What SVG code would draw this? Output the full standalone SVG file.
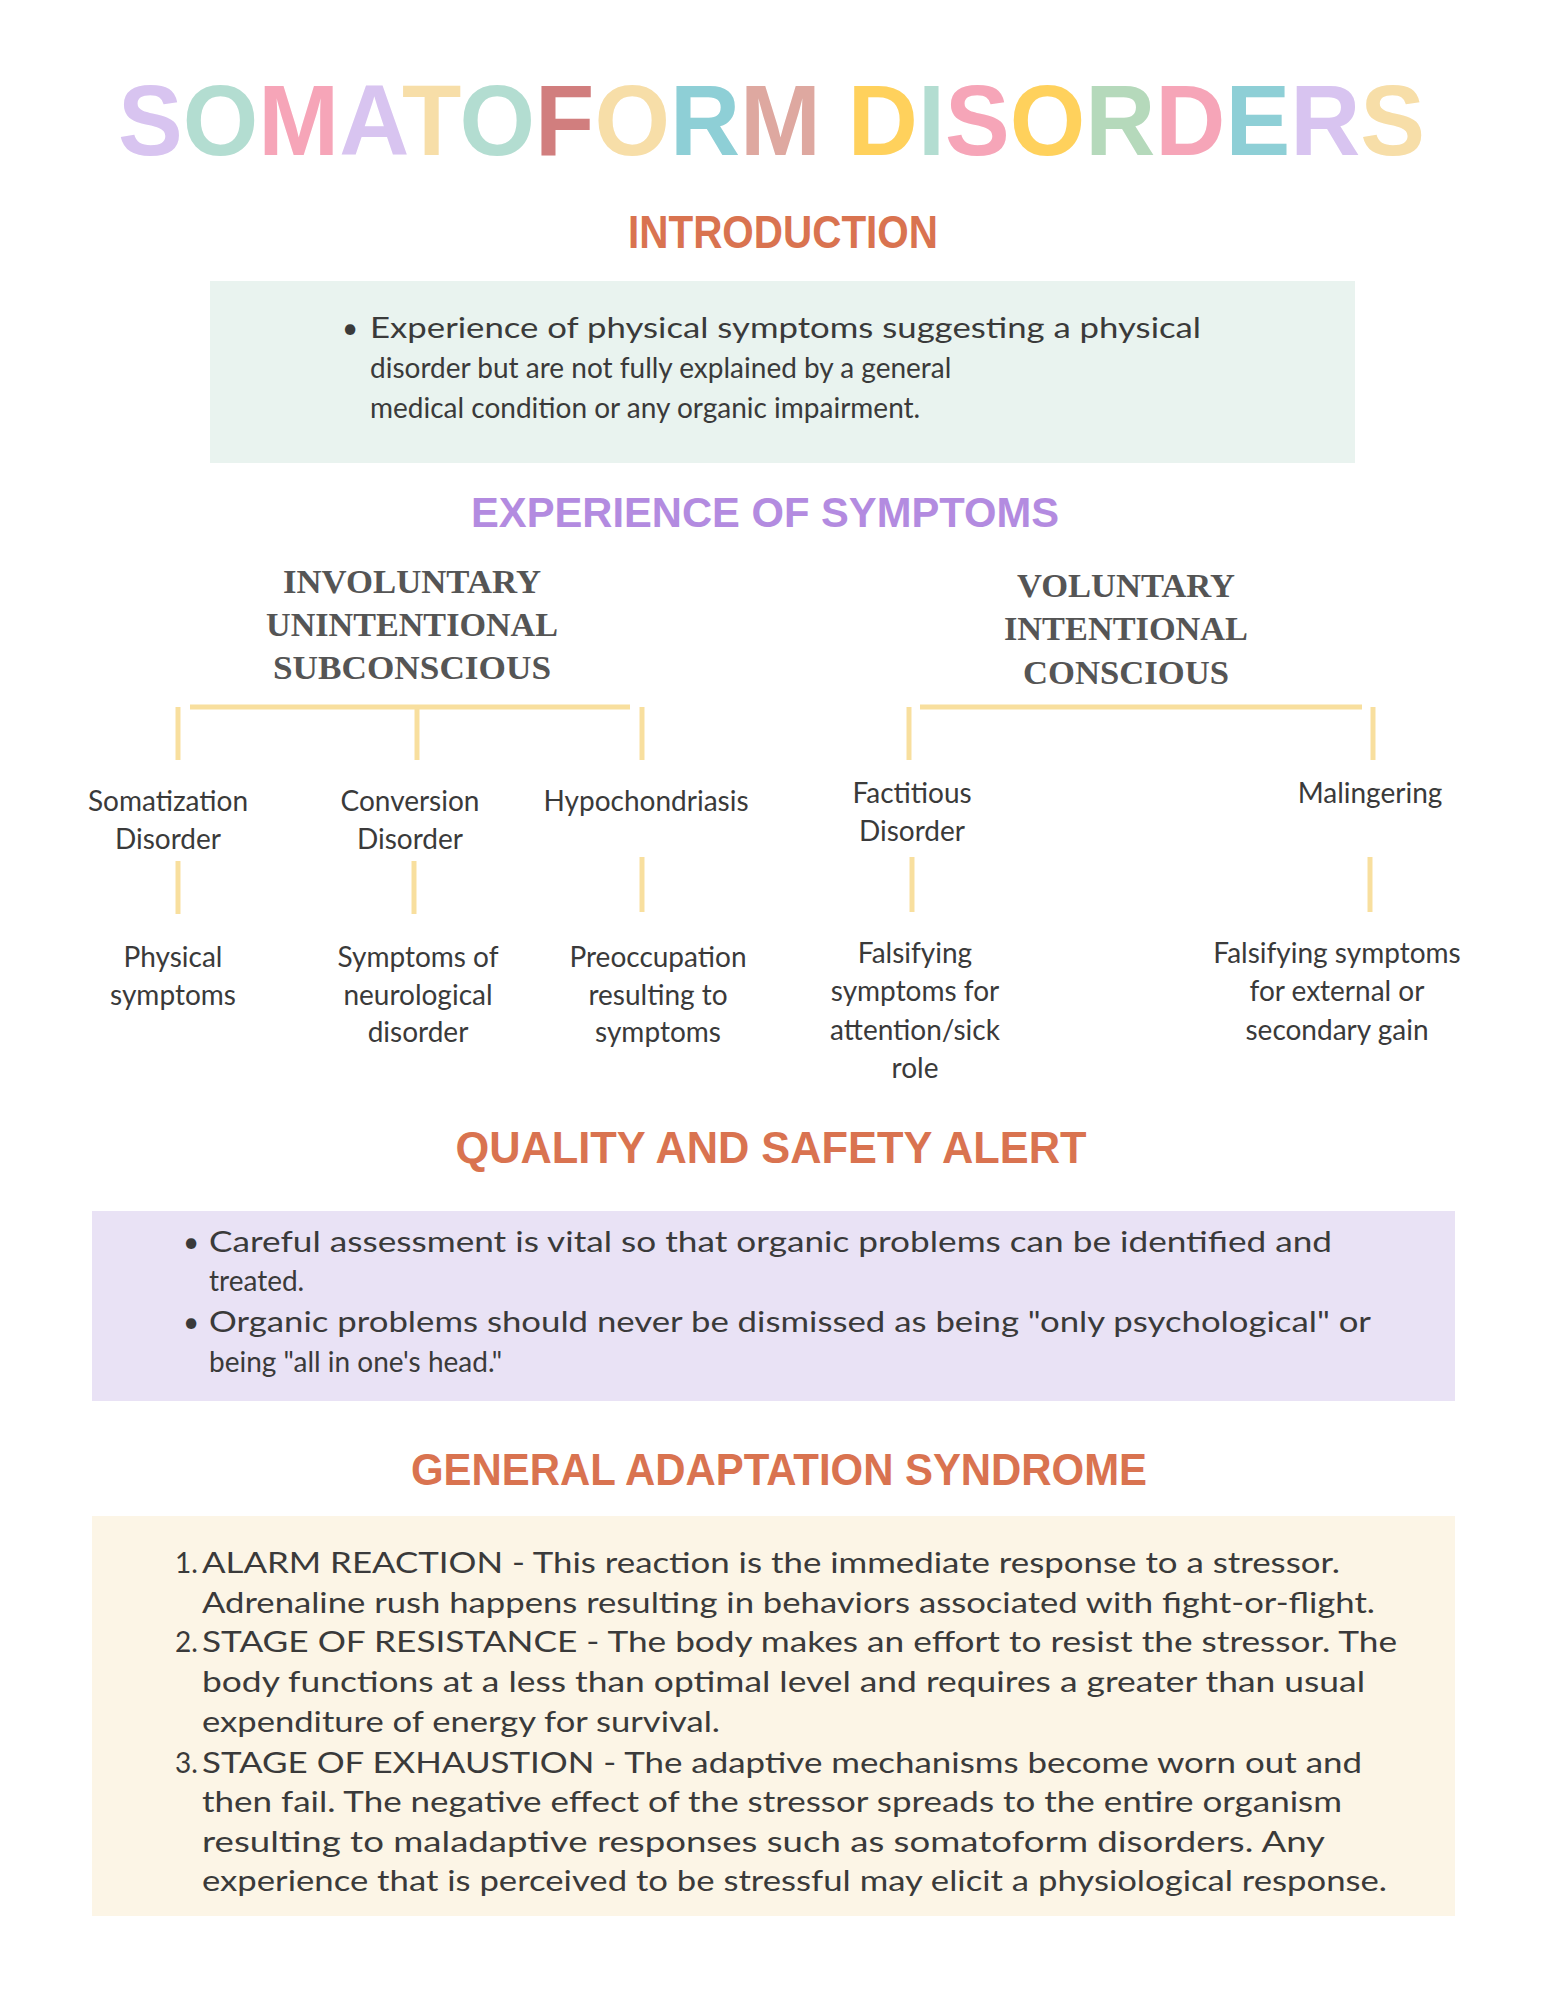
<svg xmlns="http://www.w3.org/2000/svg" width="1545" height="2000" viewBox="0 0 1545 2000">
<style>
.h{font-family:"Liberation Sans",sans-serif;font-weight:bold;text-anchor:middle}
.t{font-family:Lato,"Open Sans",sans-serif;font-size:28px;fill:#3a3a3a}
.c{text-anchor:middle}
.g{font-family:"Liberation Serif",serif;font-weight:bold;font-size:34px;fill:#555;text-anchor:middle}
.ln{stroke:#f8df9e;stroke-width:5;fill:none}
</style>
<rect width="1545" height="2000" fill="#fff"/>
<g id="title">
<text x="118" y="155" font-family="Liberation Sans,sans-serif" font-weight="bold" font-size="100" textLength="1307" lengthAdjust="spacingAndGlyphs"><tspan fill="#d8c4f0">S</tspan><tspan fill="#b3ddd1">O</tspan><tspan fill="#f6a5b8">M</tspan><tspan fill="#d8c4f0">A</tspan><tspan fill="#f7dea8">T</tspan><tspan fill="#b3ddd1">O</tspan><tspan fill="#d17e7e">F</tspan><tspan fill="#f7dea8">O</tspan><tspan fill="#8ecfd6">R</tspan><tspan fill="#dea8a0">M</tspan><tspan> </tspan><tspan fill="#ffd15c">D</tspan><tspan fill="#b3ddd1">I</tspan><tspan fill="#f6a5b8">S</tspan><tspan fill="#ffd15c">O</tspan><tspan fill="#b5d9bb">R</tspan><tspan fill="#f6a5b8">D</tspan><tspan fill="#8ecfd6">E</tspan><tspan fill="#d8c4f0">R</tspan><tspan fill="#f7dea8">S</tspan></text>
</g>
<g id="intro">
<text class="h" x="783" y="248" font-size="46" fill="#d97350" textLength="310" lengthAdjust="spacingAndGlyphs">INTRODUCTION</text>
<rect x="210" y="281" width="1145" height="182" fill="#e9f3ef"/>
<text class="t" x="342" y="338">•</text>
<text class="t" x="370" y="338" textLength="831" lengthAdjust="spacingAndGlyphs">Experience of physical symptoms suggesting a physical</text>
<text class="t" x="370" y="378">disorder but are not fully explained by a general</text>
<text class="t" x="370" y="418">medical condition or any organic impairment.</text>
</g>
<g id="symptoms-heading">
<text class="h" x="765" y="527" font-size="42" fill="#b38be0" textLength="588" lengthAdjust="spacingAndGlyphs">EXPERIENCE OF SYMPTOMS</text>
</g>
<g id="involuntary">
<text class="g" x="412" y="593" textLength="258" lengthAdjust="spacingAndGlyphs">INVOLUNTARY</text>
<text class="g" x="412" y="636" textLength="292" lengthAdjust="spacingAndGlyphs">UNINTENTIONAL</text>
<text class="g" x="412" y="679" textLength="278" lengthAdjust="spacingAndGlyphs">SUBCONSCIOUS</text>
</g>
<g id="voluntary">
<text class="g" x="1126" y="597" textLength="218" lengthAdjust="spacingAndGlyphs">VOLUNTARY</text>
<text class="g" x="1126" y="640" textLength="244" lengthAdjust="spacingAndGlyphs">INTENTIONAL</text>
<text class="g" x="1126" y="684" textLength="206" lengthAdjust="spacingAndGlyphs">CONSCIOUS</text>
</g>
<g id="connectors" class="ln">
<line x1="190" y1="707" x2="630" y2="707"/>
<line x1="178" y1="707" x2="178" y2="760"/>
<line x1="417" y1="707" x2="417" y2="760"/>
<line x1="642" y1="707" x2="642" y2="760"/>
<line x1="920" y1="707" x2="1362" y2="707"/>
<line x1="909" y1="707" x2="909" y2="760"/>
<line x1="1373" y1="707" x2="1373" y2="760"/>
<line x1="178" y1="861" x2="178" y2="914"/>
<line x1="414" y1="861" x2="414" y2="914"/>
<line x1="642" y1="857" x2="642" y2="912"/>
<line x1="912" y1="857" x2="912" y2="912"/>
<line x1="1370" y1="857" x2="1370" y2="912"/>
</g>
<g id="somatization"><text class="t c" x="168" y="811">Somatization</text><text class="t c" x="168" y="849">Disorder</text></g>
<g id="conversion"><text class="t c" x="410" y="811">Conversion</text><text class="t c" x="410" y="849">Disorder</text></g>
<g id="hypochondriasis"><text class="t c" x="646" y="811">Hypochondriasis</text></g>
<g id="factitious"><text class="t c" x="912" y="803">Factitious</text><text class="t c" x="912" y="841">Disorder</text></g>
<g id="malingering"><text class="t c" x="1370" y="803">Malingering</text></g>
<g id="physical"><text class="t c" x="173" y="967">Physical</text><text class="t c" x="173" y="1005">symptoms</text></g>
<g id="neuro"><text class="t c" x="418" y="967">Symptoms of</text><text class="t c" x="418" y="1005">neurological</text><text class="t c" x="418" y="1042">disorder</text></g>
<g id="preoccupation"><text class="t c" x="658" y="967">Preoccupation</text><text class="t c" x="658" y="1005">resulting to</text><text class="t c" x="658" y="1042">symptoms</text></g>
<g id="falsifying1"><text class="t c" x="915" y="963">Falsifying</text><text class="t c" x="915" y="1001">symptoms for</text><text class="t c" x="915" y="1040">attention/sick</text><text class="t c" x="915" y="1078">role</text></g>
<g id="falsifying2"><text class="t c" x="1337" y="963">Falsifying symptoms</text><text class="t c" x="1337" y="1001">for external or</text><text class="t c" x="1337" y="1040">secondary gain</text></g>
<g id="quality">
<text class="h" x="771" y="1163" font-size="44" fill="#d97350" textLength="631" lengthAdjust="spacingAndGlyphs">QUALITY AND SAFETY ALERT</text>
<rect x="92" y="1211" width="1363" height="190" fill="#e9e2f5"/>
<text class="t" x="183" y="1252">•</text>
<text class="t" x="209" y="1252" textLength="1123" lengthAdjust="spacingAndGlyphs">Careful assessment is vital so that organic problems can be identified and</text>
<text class="t" x="209" y="1291">treated.</text>
<text class="t" x="183" y="1332">•</text>
<text class="t" x="209" y="1332" textLength="1162" lengthAdjust="spacingAndGlyphs">Organic problems should never be dismissed as being "only psychological" or</text>
<text class="t" x="209" y="1372">being "all in one's head."</text>
</g>
<g id="gas">
<text class="h" x="779" y="1485" font-size="44" fill="#d97350" textLength="736" lengthAdjust="spacingAndGlyphs">GENERAL ADAPTATION SYNDROME</text>
<rect x="92" y="1516" width="1363" height="400" fill="#fcf5e6"/>
<text class="t" x="175" y="1573">1.</text>
<text class="t" x="202" y="1573" textLength="1138" lengthAdjust="spacingAndGlyphs">ALARM REACTION - This reaction is the immediate response to a stressor.</text>
<text class="t" x="202" y="1613" textLength="1173" lengthAdjust="spacingAndGlyphs">Adrenaline rush happens resulting in behaviors associated with fight-or-flight.</text>
<text class="t" x="175" y="1652">2.</text>
<text class="t" x="202" y="1652" textLength="1195" lengthAdjust="spacingAndGlyphs">STAGE OF RESISTANCE - The body makes an effort to resist the stressor. The</text>
<text class="t" x="202" y="1692" textLength="1163" lengthAdjust="spacingAndGlyphs">body functions at a less than optimal level and requires a greater than usual</text>
<text class="t" x="202" y="1732" textLength="518" lengthAdjust="spacingAndGlyphs">expenditure of energy for survival.</text>
<text class="t" x="175" y="1773">3.</text>
<text class="t" x="202" y="1773" textLength="1160" lengthAdjust="spacingAndGlyphs">STAGE OF EXHAUSTION - The adaptive mechanisms become worn out and</text>
<text class="t" x="202" y="1812" textLength="1140" lengthAdjust="spacingAndGlyphs">then fail. The negative effect of the stressor spreads to the entire organism</text>
<text class="t" x="202" y="1852" textLength="1123" lengthAdjust="spacingAndGlyphs">resulting to maladaptive responses such as somatoform disorders. Any</text>
<text class="t" x="202" y="1891" textLength="1185" lengthAdjust="spacingAndGlyphs">experience that is perceived to be stressful may elicit a physiological response.</text>
</g>
</svg>
